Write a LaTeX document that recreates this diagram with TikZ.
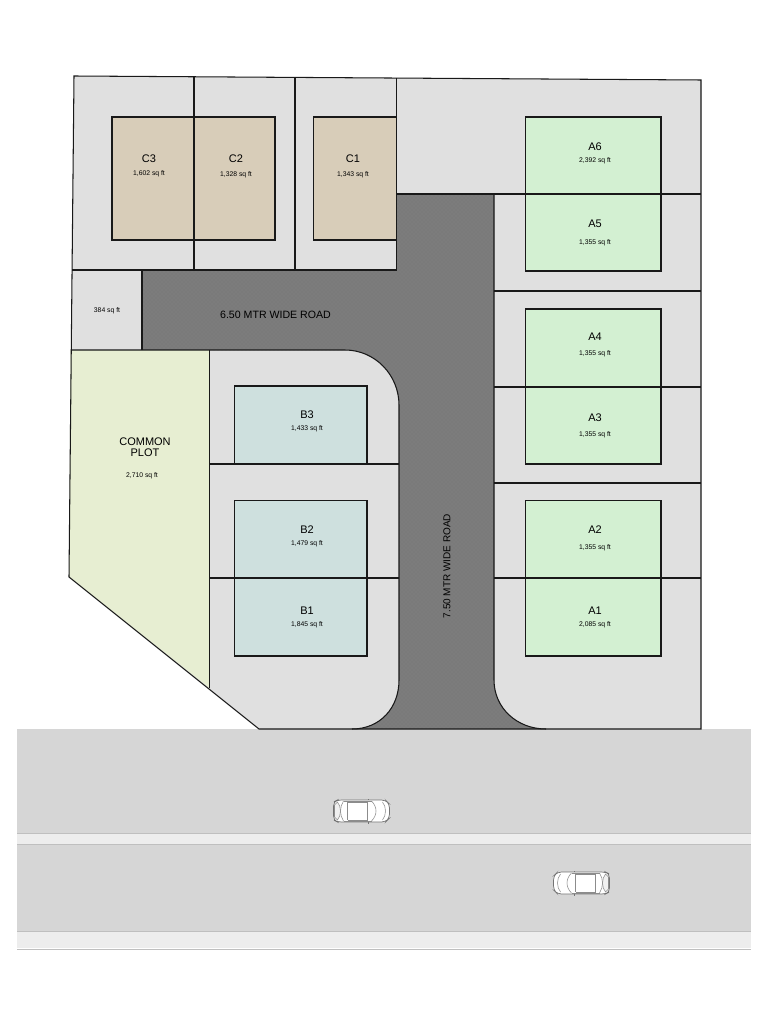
\documentclass[tikz,border=0pt]{standalone}
\usepackage{fontspec}
\setmainfont{Liberation Sans}
\usetikzlibrary{patterns}
\pgfdeclarepatternformonly{roaddots}{\pgfqpoint{-1pt}{-1pt}}{\pgfqpoint{3pt}{3pt}}{\pgfqpoint{4pt}{4pt}}{
  \pgfpathcircle{\pgfqpoint{0pt}{0pt}}{0.55pt}\pgfusepath{fill}
  \pgfpathcircle{\pgfqpoint{2pt}{2pt}}{0.55pt}\pgfusepath{fill}
}
\definecolor{lotgray}{HTML}{E0E0E0}
\definecolor{roadgray}{HTML}{7A7A7A}
\definecolor{roaddot}{HTML}{868686}
\definecolor{mainroad}{HTML}{D6D6D6}
\definecolor{strip}{HTML}{EDEDED}
\definecolor{plota}{HTML}{D3F0D2}
\definecolor{plotb}{HTML}{CEE0DE}
\definecolor{plotc}{HTML}{D8CDB9}
\definecolor{common}{HTML}{E7EED2}
\tikzset{
  bound/.style={draw=black!90,line width=1.05pt},
  platefill/.style={line width=1.15pt,draw=black!90},
  name label/.style={font=\fontsize{11}{12}\selectfont,text=black,inner sep=0pt},
  area label/.style={font=\fontsize{6.8}{7}\selectfont,text=black,inner sep=0pt},
  carline/.style={draw=black!45,line width=0.55pt},
  pics/carshape/.style={code={
    \draw[carline,fill=white,rounded corners=4pt,draw=black!55,line width=0.7pt] (-28,-9) -- (-24,-11) -- (24,-11) -- (28,-7) -- (28,7) -- (24,11) -- (-24,11) -- (-28,9) -- cycle;
    \draw[carline,fill=black!6] (-24,-9) .. controls (-20,-4) and (-20,4) .. (-24,9) -- (-27,6) -- (-27,-6) -- cycle;
    \draw[carline] (-18,-10) .. controls (-22,-4) and (-22,4) .. (-18,10);
    \draw[carline] (-14,-9) -- (-14,9);
    \draw[carline] (-14,-9) -- (6,-9) (-14,9) -- (6,9);
    \draw[carline] (6,-9) -- (6,9);
    \draw[carline] (10,-10) .. controls (16,-4) and (16,4) .. (10,10);
    \draw[carline] (-18,-10) -- (10,-10) (-18,10) -- (10,10);
    \draw[carline] (21,-9) .. controls (25,-4) and (25,4) .. (21,9);
    \draw[draw=black!55,line width=0.7pt] (7,-11) -- (7,-12.5) (7,11) -- (7,12.5);
  }}
}
\begin{document}
\begin{tikzpicture}[x=1pt,y=-1pt,line join=miter]
\useasboundingbox[fill=white] (0,0) rectangle (768,1024);
% main road
\fill[mainroad] (17,729) rectangle (751,833);
\fill[strip] (17,833) rectangle (751,844);
\fill[mainroad] (17,844) rectangle (751,931);
\fill[strip] (17,931) rectangle (751,948);
\draw[black!25,line width=0.5pt] (17,833) -- (751,833) (17,844.5) -- (751,844.5) (17,931) -- (751,931) (17,949) -- (751,949);
% site
\fill[lotgray] (74,76) -- (701,80) -- (701,729) -- (259,729) -- (69,577) -- cycle;
% internal road
\path[fill=roadgray] (397,194) -- (494,194) -- (494,680) .. controls (494,708) and (517,729) .. (546,729) -- (352,729) .. controls (380,729) and (399,708) .. (399,680) -- (399,405) .. controls (399,375) and (375,350) .. (345,350) -- (142,350) -- (142,270) -- (397,270) -- cycle;
\path[pattern=roaddots,pattern color=roaddot] (397,194) -- (494,194) -- (494,680) .. controls (494,708) and (517,729) .. (546,729) -- (352,729) .. controls (380,729) and (399,708) .. (399,680) -- (399,405) .. controls (399,375) and (375,350) .. (345,350) -- (142,350) -- (142,270) -- (397,270) -- cycle;
% common plot
\fill[common] (70.5,350) -- (209.5,350) -- (209.5,688) -- (69,577) -- cycle;
% plots
\foreach \nm/\xa/\ya/\xb/\yb/\col in {
  pa6/525.7/117/661/194/plota, pa5/525.7/194/661/271/plota,
  pa4/525.7/309/661/387/plota, pa3/525.7/387/661/464/plota,
  pa2/525.7/500.5/661/578/plota, pa1/525.7/578/661/656/plota,
  pb3/234.7/386/367/464/plotb, pb2/234.7/500.5/367/578/plotb, pb1/234.7/578/367/656/plotb,
  pc3/112/117/194/240/plotc, pc2/194/117/275/240/plotc, pc1/313.7/117/396.5/240/plotc}
  \draw[platefill,fill=\col] (\xa,\ya) rectangle (\xb,\yb);
% boundaries
\draw[bound] (74,76) -- (701,80) -- (701,729) -- (259,729) -- (69,577) -- cycle;
\draw[bound] (194,77) -- (194,270) (295,78) -- (295,270) (396.5,78) -- (396.5,270);
\draw[bound] (72,270) -- (396.5,270) (396.5,194) -- (701,194);
\draw[bound] (71,350) -- (345,350) .. controls (375,350) and (399,375) .. (399,405) -- (399,680) .. controls (399,708) and (380,729) .. (352,729);
\draw[bound] (142,270) -- (142,350);
\draw[bound] (209.5,350) -- (209.5,688);
\draw[bound] (209.5,464) -- (399,464) (209.5,578) -- (399,578);
\draw[bound] (494,194) -- (494,680) .. controls (494,708) and (517,729) .. (546,729);
\draw[bound] (494,291) -- (701,291) (494,387) -- (701,387) (494,483) -- (701,483) (494,578) -- (701,578);
% labels
\foreach \nm/\x/\y/\t/\yy/\a in {
  a6/595/147/A6/161/{2,392 sq ft}, a5/595/224/A5/243/{1,355 sq ft},
  a4/595/337/A4/354/{1,355 sq ft}, a3/595/418/A3/435/{1,355 sq ft},
  a2/595/530/A2/548/{1,355 sq ft}, a1/595/611/A1/625/{2,085 sq ft},
  b3/307/415/B3/429/{1,433 sq ft}, b2/307/530/B2/544/{1,479 sq ft}, b1/307/611/B1/625/{1,845 sq ft},
  c3/149/159/C3/174/{1,602 sq ft}, c2/236/159/C2/175/{1,328 sq ft}, c1/353/159/C1/175/{1,343 sq ft}}{
  \node[name label] (n\nm) at (\x,\y) {\t};
  \node[area label] (s\nm) at (\x,\yy) {\a};
}
\node[area label] (small) at (107,310.5) {384 sq ft};
\node[name label,align=center,font=\fontsize{11}{11}\selectfont] (commonlabel) at (145,447.5) {COMMON\\PLOT};
\node[area label] (commonarea) at (142,475.5) {2,710 sq ft};
\node[name label,font=\fontsize{10.6}{12}\selectfont] (road65) at (275.5,314.5) {6.50 MTR WIDE ROAD};
\node[name label,font=\fontsize{10}{12}\selectfont,rotate=90] (road75) at (447,566) {7.50 MTR WIDE ROAD};
% cars
\pic at (361.5,811) {carshape};
\pic[xscale=-1] at (581.5,883) {carshape};
\end{tikzpicture}
\end{document}
